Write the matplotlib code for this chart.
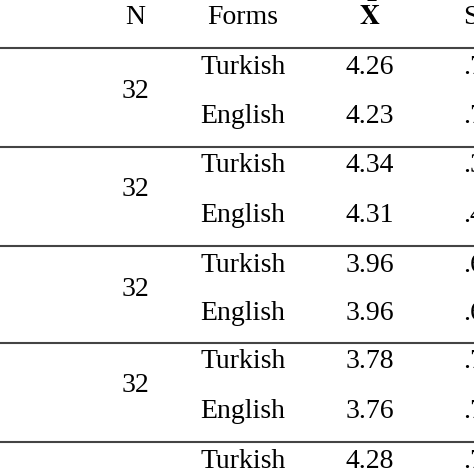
import matplotlib
matplotlib.use("Agg")
import matplotlib.pyplot as plt

plt.rcParams['mathtext.fontset'] = 'stix'
headers = ["N", "Forms", r"$\mathbf{\bar{X}}$", "S"]
n_values = ["32", "32", "32", "32", "32"]
forms = ["Turkish", "English"]
means = [["4.26", "4.23"], ["4.34", "4.31"], ["3.96", "3.96"], ["3.78", "3.76"], ["4.28", ""]]
sds = [[".71", ".72"], [".38", ".42"], [".65", ".66"], [".74", ".75"], [".70", ""]]

fig = plt.figure(figsize=(4.74, 4.74), dpi=100)
ax = fig.add_axes([0, 0, 1, 1])
ax.set_xlim(0, 474); ax.set_ylim(474, 0); ax.axis('off')
fam = 'Liberation Serif'
fs = 20
cols = [135, 243, 370]
for x, h in zip(cols, headers[:3]):
    ax.text(x, 17, h, ha='center', va='center', fontsize=fs, family=fam,
            fontweight='bold' if x == 370 else 'normal')
ax.text(463, 17, headers[3], ha='left', va='center', fontsize=fs, family=fam, clip_on=True)
lines = [48, 147, 246, 343, 442]
for y in lines:
    ax.plot([0, 474], [y, y], color='#444444', lw=1.5)
for g in range(5):
    top = lines[g]
    ax.text(135, top + 43, n_values[g], ha='center', va='center', fontsize=fs, family=fam)
    for r in range(2):
        y = top + 19 + r * 49
        if g == 4 and r == 1:
            continue
        ax.text(243, y, forms[r], ha='center', va='center', fontsize=fs, family=fam)
        ax.text(370, y, means[g][r], ha='center', va='center', fontsize=fs, family=fam)
        ax.text(463, y, sds[g][r], ha='left', va='center', fontsize=fs, family=fam, clip_on=True)
fig.savefig("out.png", dpi=100)
